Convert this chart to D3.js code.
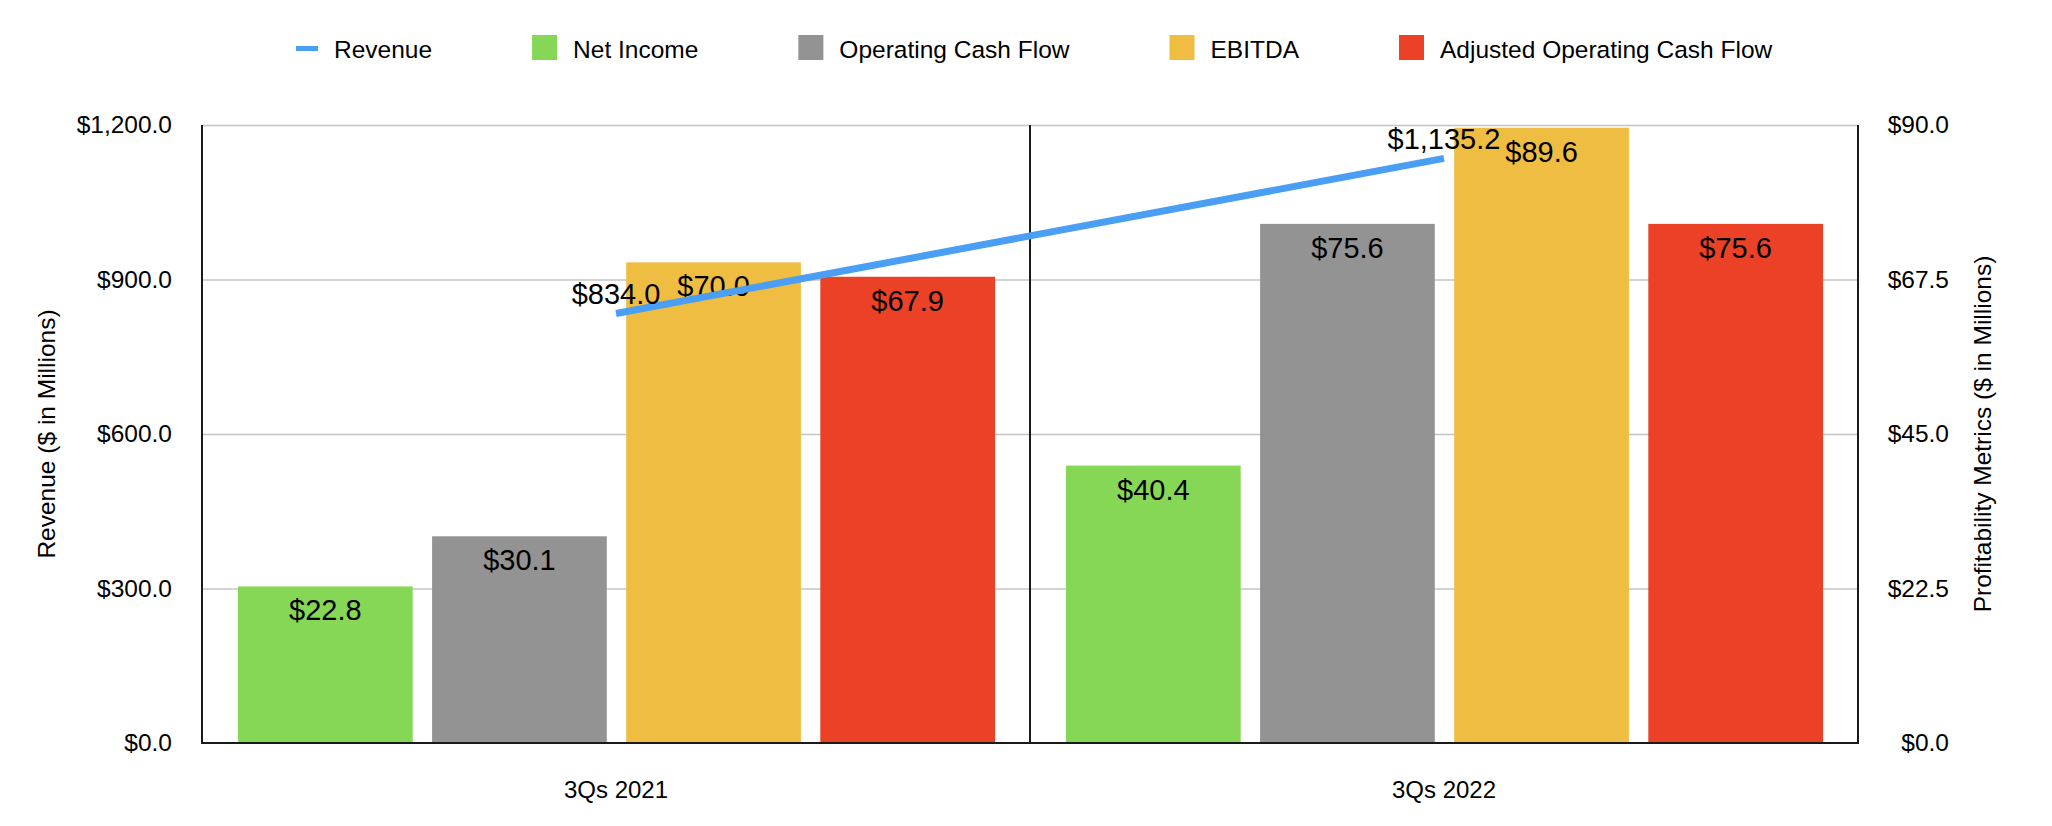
<!DOCTYPE html>
<html>
<head>
<meta charset="utf-8">
<script src="https://cdn.jsdelivr.net/npm/d3@7"></script>
<style>
  html, body { margin: 0; padding: 0; background: #ffffff; }
  svg { display: block; font-family: "Liberation Sans", Arial, Helvetica, sans-serif; }
</style>
</head>
<body>
<svg id="chart" width="2052" height="826"></svg>
<script>
// ---- Data ----
const categories = ["3Qs 2021", "3Qs 2022"];
const revenue = [834.0, 1135.2];
const netIncome = [22.8, 40.4];
const operatingCashFlow = [30.1, 75.6];
const ebitda = [70.0, 89.6];
const adjustedOperatingCashFlow = [67.9, 75.6];
const barSeriesNames = ["Net Income", "Operating Cash Flow", "EBITDA", "Adjusted Operating Cash Flow"];
const barSeriesValues = [netIncome, operatingCashFlow, ebitda, adjustedOperatingCashFlow];
const legendNames = ["Revenue", "Net Income", "Operating Cash Flow", "EBITDA", "Adjusted Operating Cash Flow"];
const leftTicks = [0, 300, 600, 900, 1200];
const rightTicks = [0, 22.5, 45, 67.5, 90];
const leftTitle = "Revenue ($ in Millions)";
const rightTitle = "Profitability Metrics ($ in Millions)";

// ---- Styles ----
const colors = {
  "Revenue": "#4a9ff5",
  "Net Income": "#85d755",
  "Operating Cash Flow": "#939393",
  "EBITDA": "#eebd42",
  "Adjusted Operating Cash Flow": "#ea4127"
};
const plot = { left: 202, right: 1858, top: 125, bottom: 743 };

const svg = d3.select("#chart");

const x0 = d3.scaleBand().domain(categories).range([plot.left, plot.right]).padding(0);
const x1 = d3.scaleBand().domain(barSeriesNames).range([36, x0.bandwidth() - 35]).paddingInner(0.1);
const yL = d3.scaleLinear().domain([0, 1200]).range([plot.bottom, plot.top]);
const yR = d3.scaleLinear().domain([0, 90]).range([plot.bottom, plot.top]);
const fmt1 = d3.format(",.1f");
const money = d => "$" + fmt1(d);

// Gridlines (from left axis ticks)
svg.append("g")
  .attr("transform", `translate(${plot.left},0)`)
  .call(d3.axisLeft(yL).tickValues(leftTicks.filter(d => d > 0)).tickSize(-(plot.right - plot.left)).tickFormat(""))
  .call(g => g.select(".domain").remove())
  .call(g => g.selectAll("line").attr("stroke", "#c4c4c4").attr("stroke-width", 1.5));

// Left tick labels
svg.append("g")
  .attr("transform", `translate(${plot.left},0)`)
  .call(d3.axisLeft(yL).tickValues(leftTicks).tickSize(0).tickPadding(30).tickFormat(money))
  .call(g => g.select(".domain").remove())
  .call(g => g.selectAll("text").attr("font-size", 24.5).attr("fill", "#000")
    .attr("font-family", "'Liberation Sans', Arial, sans-serif"));

// Right tick labels (right-aligned)
svg.append("g")
  .attr("transform", `translate(${plot.right},0)`)
  .call(d3.axisRight(yR).tickValues(rightTicks).tickSize(0).tickPadding(91).tickFormat(money))
  .call(g => g.select(".domain").remove())
  .call(g => g.selectAll("text").attr("font-size", 24.5).attr("fill", "#000").attr("text-anchor", "end")
    .attr("font-family", "'Liberation Sans', Arial, sans-serif"));

// Bars
const groups = svg.append("g").selectAll("g")
  .data(categories)
  .join("g")
  .attr("transform", c => `translate(${x0(c)},0)`);

groups.selectAll("rect")
  .data((c, ci) => barSeriesNames.map((s, si) => ({ s, v: barSeriesValues[si][ci] })))
  .join("rect")
  .attr("x", d => x1(d.s))
  .attr("width", x1.bandwidth())
  .attr("y", d => yR(d.v))
  .attr("height", d => yR(0) - yR(d.v))
  .attr("fill", d => colors[d.s]);

// Bar value labels
groups.selectAll("text")
  .data((c, ci) => barSeriesNames.map((s, si) => ({ s, v: barSeriesValues[si][ci] })))
  .join("text")
  .attr("x", d => x1(d.s) + x1.bandwidth() / 2)
  .attr("y", d => yR(d.v) + 34)
  .attr("text-anchor", "middle")
  .attr("font-size", 29)
  .attr("fill", "#000")
  .text(d => money(d.v));

// Axis lines: left, right, bottom, middle divider
const axisG = svg.append("g").attr("stroke", "#1a1a1a").attr("stroke-width", 2);
axisG.append("line").attr("x1", plot.left).attr("x2", plot.left).attr("y1", plot.top).attr("y2", plot.bottom + 1);
axisG.append("line").attr("x1", plot.right).attr("x2", plot.right).attr("y1", plot.top).attr("y2", plot.bottom + 1);
axisG.append("line").attr("x1", plot.left - 1).attr("x2", plot.right + 1).attr("y1", plot.bottom).attr("y2", plot.bottom);
categories.slice(1).forEach(c => {
  axisG.append("line").attr("x1", x0(c)).attr("x2", x0(c)).attr("y1", plot.top).attr("y2", plot.bottom);
});

// Revenue line
const cx = c => x0(c) + x0.bandwidth() / 2;
const lineData = categories.map((c, i) => ({ c, v: revenue[i] }));
svg.append("path")
  .datum(lineData)
  .attr("fill", "none")
  .attr("stroke", colors["Revenue"])
  .attr("stroke-width", 7)
  .attr("d", d3.line().x(d => cx(d.c)).y(d => yL(d.v)));

svg.append("g").selectAll("text")
  .data(lineData)
  .join("text")
  .attr("x", d => cx(d.c))
  .attr("y", d => yL(d.v) - 9)
  .attr("text-anchor", "middle")
  .attr("font-size", 29)
  .attr("fill", "#000")
  .text(d => money(d.v));

// Category labels
svg.append("g")
  .attr("transform", `translate(0,${plot.bottom})`)
  .call(d3.axisBottom(x0).tickSize(0).tickPadding(38))
  .call(g => g.select(".domain").remove())
  .call(g => g.selectAll("text").attr("font-size", 24).attr("fill", "#000")
    .attr("font-family", "'Liberation Sans', Arial, sans-serif"));

// Axis titles
svg.append("text")
  .attr("transform", `translate(46,${(plot.top + plot.bottom) / 2}) rotate(-90)`)
  .attr("text-anchor", "middle")
  .attr("dy", "0.35em")
  .attr("font-size", 24.5)
  .attr("fill", "#000")
  .text(leftTitle);

svg.append("text")
  .attr("transform", `translate(1982,${(plot.top + plot.bottom) / 2}) rotate(-90)`)
  .attr("text-anchor", "middle")
  .attr("dy", "0.35em")
  .attr("font-size", 24.5)
  .attr("fill", "#000")
  .text(rightTitle);

// Legend
const legend = svg.append("g");
let lx = 296;
legendNames.forEach(name => {
  const item = legend.append("g").attr("transform", `translate(${lx},0)`);
  if (name === "Revenue") {
    item.append("rect").attr("x", 0).attr("y", 46).attr("width", 22).attr("height", 5).attr("fill", colors[name]);
  } else {
    item.append("rect").attr("x", 0).attr("y", 35).attr("width", 25).attr("height", 25).attr("fill", colors[name]);
  }
  const tx = name === "Revenue" ? 38 : 41;
  const t = item.append("text")
    .attr("x", tx)
    .attr("y", 58)
    .attr("font-size", 24.5)
    .attr("fill", "#000")
    .text(name);
  const w = t.node().getComputedTextLength();
  lx += tx + w + 100;
});
</script>
</body>
</html>
